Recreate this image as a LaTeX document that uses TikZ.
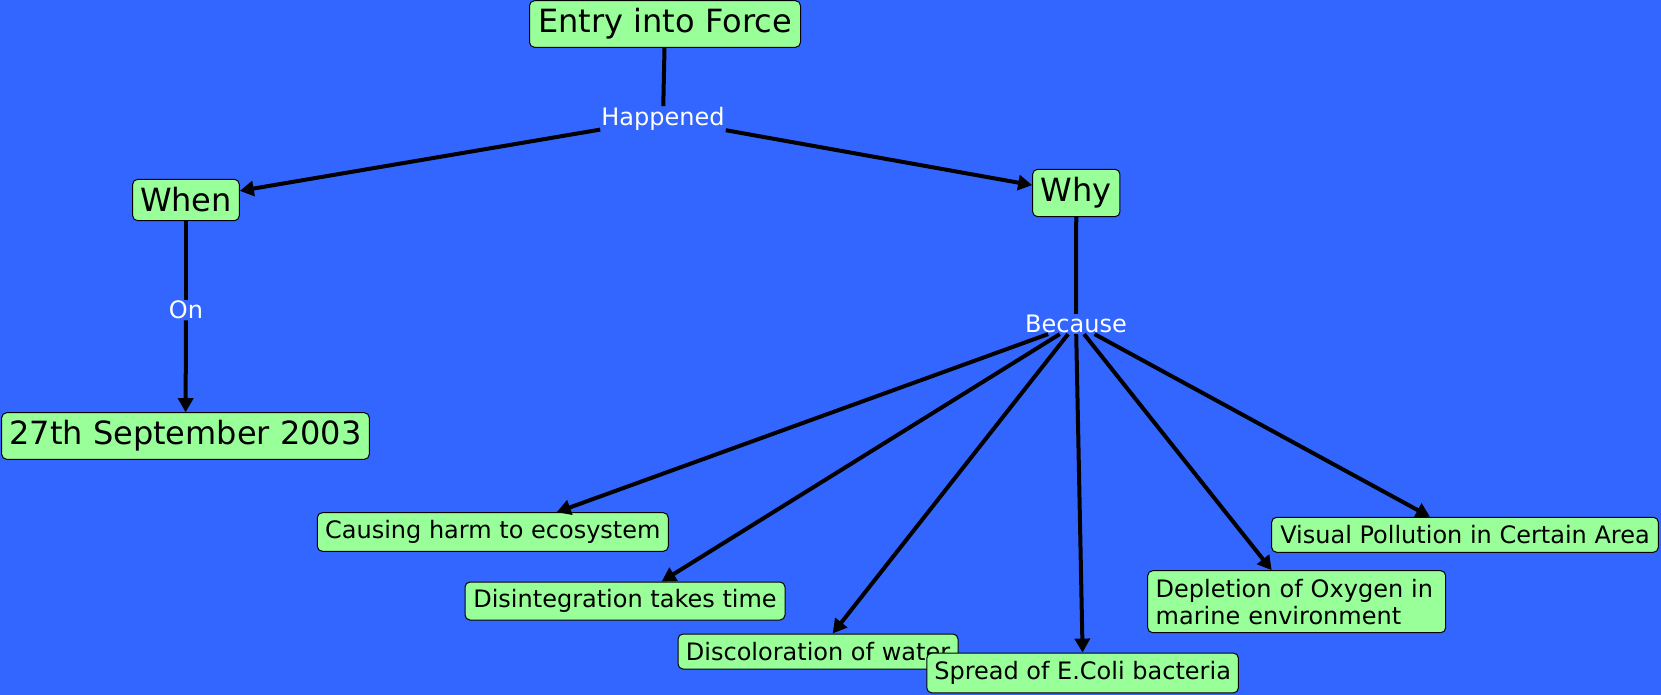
\documentclass[tikz,border=0pt]{standalone}
\usepackage{fontspec}
\setmainfont{DejaVu Sans}
\usetikzlibrary{arrows.meta}
\definecolor{bgblue}{HTML}{3366FF}
\definecolor{boxgreen}{HTML}{99FF99}
\begin{document}
\begin{tikzpicture}[x=1pt,y=-1pt,
  box/.style={draw=black, line width=1pt, fill=boxgreen, rounded corners=5pt, inner sep=0pt, align=center},
  bigbox/.style={box, font=\fontsize{32}{38}\selectfont},
  smallbox/.style={box, font=\fontsize{24}{26.7}\selectfont},
  lab/.style={text=white, inner sep=1pt, font=\fontsize{24}{28}\selectfont},
  link/.style={line width=4pt, draw=black},
  arr/.style={link, -{Triangle[length=14pt,width=15pt]}}
]
\fill[bgblue] (0,0) rectangle (1661,695);
\useasboundingbox (0,0) rectangle (1661,695);

\node[bigbox, minimum width=271pt, minimum height=46.6pt] (entry) at (665,24) {Entry into Force};
\node[bigbox, minimum width=106.6pt, minimum height=41.4pt] (when) at (186,200) {When};
\node[bigbox, minimum width=87.3pt, minimum height=47.4pt] (why) at (1076.3,193) {Why};
\node[bigbox, minimum width=367.6pt, minimum height=46.6pt] (date) at (185.5,436) {27th September 2003};

\node[lab] (happened) at (663,119) {Happened};
\node[lab] (on) at (186,310) {On};
\node[lab] (because) at (1076,324) {Because};

\node[smallbox, minimum width=351pt, minimum height=38.6pt] (cause) at (492.8,532) {Causing harm to ecosystem};
\node[smallbox, minimum width=320pt, minimum height=38pt] (disint) at (625,601) {Disintegration takes time};
\node[smallbox, minimum width=280pt, minimum height=35pt] (discol) at (818,651.5) {Discoloration of water};
\node[smallbox, minimum width=311.6pt, minimum height=39.8pt] (spread) at (1082.6,673) {Spread of E.Coli bacteria};
\node[smallbox, minimum width=298pt, minimum height=62pt, align=left, text width=282pt] (deplet) at (1296.7,601.7) {Depletion of Oxygen in\\marine environment};
\node[smallbox, minimum width=386.7pt, minimum height=35pt] (visual) at (1465,534.8) {Visual Pollution in Certain Area};

\draw[link] (entry) -- (happened);
\draw[arr] (happened) -- (when);
\draw[arr] (happened) -- (why);
\draw[link] (when) -- (on);
\draw[arr] (on) -- (date);
\draw[link] (why) -- (because);
\draw[arr] (because) -- ([xshift=63.9pt]cause.north);
\draw[arr] (because) -- ([xshift=36.7pt]disint.north);
\draw[arr] (because) -- ([xshift=14.7pt]discol.north);
\draw[arr] (because) -- (spread.north);
\draw[arr] (because) -- ([xshift=-25pt]deplet.north);
\draw[arr] (because) -- ([xshift=-35pt]visual.north);
\end{tikzpicture}
\end{document}
